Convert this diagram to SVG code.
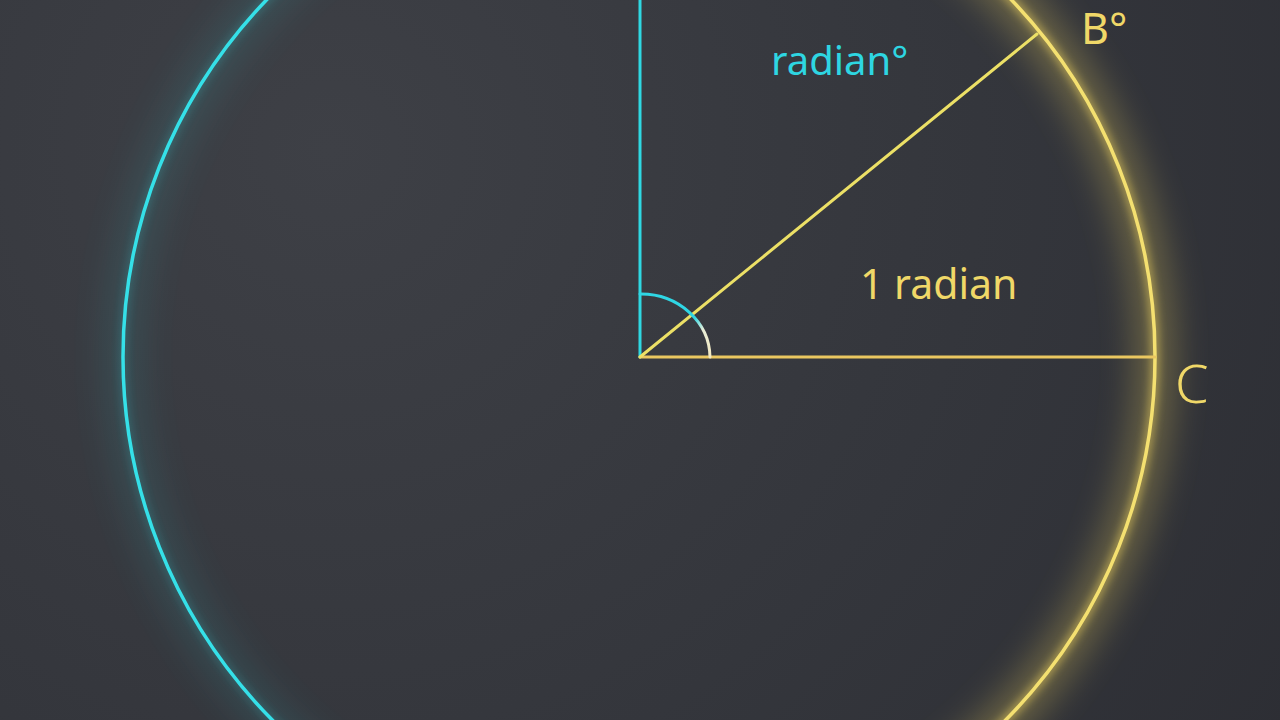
<svg xmlns="http://www.w3.org/2000/svg" width="1280" height="720" viewBox="0 0 1280 720">
<defs>
<radialGradient id="bg" cx="330" cy="150" r="1300" gradientUnits="userSpaceOnUse">
<stop offset="0" stop-color="#3e4046"/>
<stop offset="0.5" stop-color="#34363c"/>
<stop offset="1" stop-color="#2a2b31"/>
</radialGradient>
<linearGradient id="ring" x1="123" y1="0" x2="1157" y2="0" gradientUnits="userSpaceOnUse">
<stop offset="0.4" stop-color="#35e0e8"/>
<stop offset="0.6" stop-color="#f4e070"/>
</linearGradient>
<linearGradient id="ringGlow" x1="123" y1="0" x2="1157" y2="0" gradientUnits="userSpaceOnUse">
<stop offset="0.4" stop-color="#35e0e8" stop-opacity="0.35"/>
<stop offset="0.6" stop-color="#f4d860" stop-opacity="1"/>
</linearGradient>
<linearGradient id="arcg" x1="640" y1="294" x2="710" y2="357" gradientUnits="userSpaceOnUse">
<stop offset="0.6" stop-color="#2fd6e4"/>
<stop offset="0.75" stop-color="#e8edd8"/>
<stop offset="1" stop-color="#f2e8c0"/>
</linearGradient>
<filter id="glow" x="-20%" y="-20%" width="140%" height="140%">
<feGaussianBlur stdDeviation="18"/>
</filter>
<filter id="soft" x="-20%" y="-20%" width="140%" height="140%">
<feGaussianBlur stdDeviation="4"/>
</filter>
<style>
.lbl{font-family:"Noto Sans","Open Sans","DejaVu Sans",sans-serif;}
.cy{fill:#2ed6e2;}
.ye{fill:#f0d868;}
</style>
</defs>
<rect width="1280" height="720" fill="url(#bg)"/>
<g id="circle">
<circle cx="639" cy="357" r="516" fill="none" stroke="url(#ringGlow)" stroke-width="34" opacity="0.35" filter="url(#glow)"/>
<circle cx="639" cy="357" r="516" fill="none" stroke="url(#ringGlow)" stroke-width="8" opacity="0.55" filter="url(#soft)"/>
<circle cx="639" cy="357" r="516" fill="none" stroke="url(#ring)" stroke-width="3.5"/>
</g>
<g id="connectors" fill="none" stroke-linecap="round">
<line x1="640" y1="357" x2="640" y2="-5" stroke="#2fd8e2" stroke-width="3"/>
<line x1="640" y1="357" x2="1155" y2="357" stroke="#eac760" stroke-width="3"/>
<line x1="640" y1="357" x2="1037" y2="34" stroke="#ece066" stroke-width="3"/>
<path d="M640,294 A69,64 0 0 1 710,357" stroke="url(#arcg)" stroke-width="3"/>
</g>
<g id="label-radian-deg"><text class="lbl cy" x="771" y="75" font-size="40">radian°</text></g>
<g id="label-one-radian"><text class="lbl ye" x="860" y="299" font-size="41">1 radian</text></g>
<g id="label-B"><text class="lbl ye" x="1081" y="44" font-size="43">B°</text></g>
<g id="label-C"><text class="lbl ye" x="1175" y="403" font-size="54" font-weight="300">C</text></g>
</svg>
